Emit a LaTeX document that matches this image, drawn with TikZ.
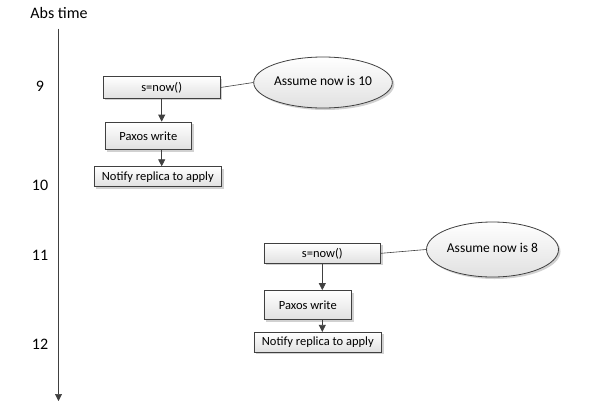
\documentclass[tikz,border=0pt]{standalone}
\usepackage{fontspec}
\setmainfont{Carlito}
\usetikzlibrary{arrows.meta,shadows,shapes.geometric}
\definecolor{linec}{HTML}{404040}
\tikzset{
  box/.style={draw=linec, line width=0.8pt, top color=white, bottom color=black!12,
    inner sep=0pt, font=\fontsize{12.5}{14}\selectfont,
    drop shadow={shadow xshift=2pt, shadow yshift=-2pt, fill=black!30, opacity=0.6}},
  note/.style={ellipse, draw=linec, line width=0.8pt, top color=white, bottom color=black!12,
    inner sep=0pt, font=\fontsize{13.5}{15}\selectfont,
    drop shadow={shadow xshift=2pt, shadow yshift=-2pt, fill=black!30, opacity=0.6}},
  arr/.style={draw=linec, line width=0.8pt, -{Triangle[length=7pt,width=7pt]}},
  link/.style={draw=linec, line width=0.6pt},
  tlabel/.style={font=\fontsize{16}{18}\selectfont, inner sep=0pt},
}
\begin{document}
\begin{tikzpicture}[x=1pt,y=-1pt]
\useasboundingbox (0,0) rectangle (591,410);
% axis
\node[tlabel] (abs) at (59,13) {Abs time};
\coordinate (axtop) at (58.5,28.5);
\coordinate (axbot) at (58.5,401);
\draw[arr, line width=0.6pt] (axtop) -- (axbot);
\node[tlabel] (t9) at (40,86.5) {9};
\node[tlabel] (t10) at (40,185) {10};
\node[tlabel] (t11) at (40,255) {11};
\node[tlabel] (t12) at (40,344) {12};
% group 1
\node[box, minimum width=116.7pt, minimum height=21.5pt] (s1) at (161.7,87.5) {s=now()};
\node[box, minimum width=86.7pt, minimum height=27.5pt] (p1) at (148.3,135.8) {Paxos write};
\node[box, minimum width=127.7pt, minimum height=20pt] (n1) at (157.8,176.7) {Notify replica to apply};
\node[note, minimum width=130pt, minimum height=51pt] (e1) at (323,82.5) {\raisebox{4pt}{Assume now is 10}};
\draw[arr] (s1.south) -- (s1.south |- p1.north);
\draw[arr] (s1.south |- p1.south) -- (s1.south |- n1.north);
\draw[link] (s1.east) -- (e1.west);
% group 2
\node[box, minimum width=116.7pt, minimum height=20pt] (s2) at (322.3,253.3) {s=now()};
\node[box, minimum width=87.7pt, minimum height=29pt] (p2) at (307.8,305) {Paxos write};
\node[box, minimum width=127.7pt, minimum height=20pt] (n2) at (317.8,342.3) {Notify replica to apply};
\node[note, minimum width=132pt, minimum height=55pt] (e2) at (492.5,249.5) {\raisebox{4pt}{Assume now is 8}};
\draw[arr] (s2.south) -- (s2.south |- p2.north);
\draw[arr] (s2.south |- p2.south) -- (s2.south |- n2.north);
\draw[link] (s2.east) -- (e2.west);
\end{tikzpicture}
\end{document}
